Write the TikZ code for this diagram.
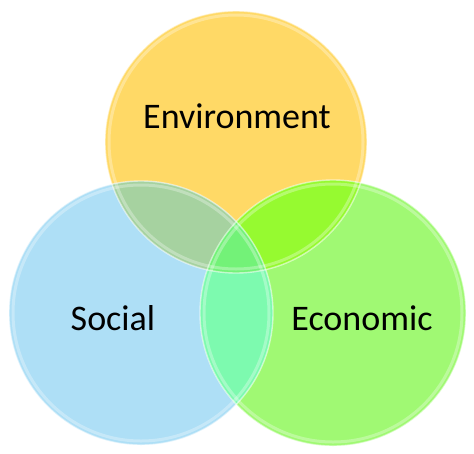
\documentclass[tikz,border=0pt]{standalone}
\usepackage{fontspec}
\setmainfont{Carlito}
\definecolor{envc}{RGB}{255,217,102}
\definecolor{socc}{RGB}{174,223,246}
\definecolor{ecoc}{RGB}{160,249,115}
\definecolor{esc}{RGB}{166,210,160}
\definecolor{eec}{RGB}{150,250,48}
\definecolor{sec}{RGB}{125,250,175}
\definecolor{allc}{RGB}{115,242,120}
\tikzset{lbl/.style={font=\fontsize{36}{40}\selectfont, text=black},
  rim/.style={draw=white, draw opacity=0.55, line width=1.4pt},
  glow/.style={draw=white, draw opacity=0.3, line width=3pt}}
\begin{document}
\begin{tikzpicture}[x=1pt,y=-1pt]
\useasboundingbox (0,0) rectangle (474,453);
\def\cE{(236,142) circle[radius=131]}
\def\cS{(141,313) circle[radius=132]}
\def\cC{(333,313) circle[radius=133]}
\fill[envc] \cE;
\fill[socc] \cS;
\fill[ecoc] \cC;
\begin{scope}\clip \cE; \fill[esc] \cS; \end{scope}
\begin{scope}\clip \cE; \fill[eec] \cC; \end{scope}
\begin{scope}\clip \cS; \fill[sec] \cC; \end{scope}
\begin{scope}\clip \cE; \clip \cS; \fill[allc] \cC; \end{scope}
\draw[glow] (236,142) circle[radius=127];
\draw[glow] (141,313) circle[radius=128];
\draw[glow] (333,313) circle[radius=129];
\draw[rim] \cE;
\draw[rim] \cS;
\draw[rim] \cC;
\node[lbl] (env) at (237,116) {Environment};
\node[lbl] (soc) at (113,318) {Social};
\node[lbl] (eco) at (362,318) {Economic};
\end{tikzpicture}
\end{document}
